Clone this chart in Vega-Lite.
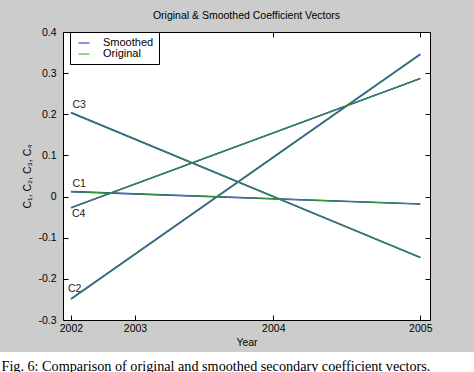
{
  "$schema": "https://vega.github.io/schema/vega-lite/v6.json",
  "background": "#cccccc",
  "padding": {"left": 0, "top": 10, "right": 0, "bottom": 0},
  "autosize": {"type": "pad"},
  "bounds": "flush",
  "center": true,
  "spacing": 32,
  "config": {
    "font": "Liberation Sans",
    "axis": {
      "domain": false,
      "grid": false,
      "tickColor": "black",
      "tickSize": -5,
      "labelColor": "black",
      "labelFont": "Liberation Sans",
      "labelFontSize": 10.5,
      "titleFont": "Liberation Sans",
      "titleFontSize": 10.5,
      "titleFontWeight": "normal",
      "titleColor": "black"
    },
    "title": {"font": "Liberation Sans", "fontSize": 10.5, "fontWeight": "normal", "color": "black", "offset": 6},
    "legend": {
      "orient": "none",
      "legendX": 70,
      "legendY": 0,
      "strokeColor": "black",
      "fillColor": "white",
      "padding": 5,
      "symbolType": "stroke",
      "symbolSize": 121,
      "symbolStrokeWidth": 1,
      "symbolOffset": 3,
      "labelFont": "Liberation Sans",
      "labelFontSize": 11,
      "labelColor": "black",
      "labelOffset": 13,
      "rowPadding": 0,
      "cornerRadius": 0
    }
  },
  "vconcat": [
    {
      "width": 367,
      "height": 288,
      "title": "Original & Smoothed Coefficient Vectors",
      "view": {"fill": "white", "stroke": "black", "strokeWidth": 1},
      "data": {
        "values": [
          {"coef": "C1", "series": "Smoothed", "step": 0, "value": 0.012},
          {"coef": "C1", "series": "Smoothed", "step": 36, "value": -0.018},
          {"coef": "C2", "series": "Smoothed", "step": 0, "value": -0.249},
          {"coef": "C2", "series": "Smoothed", "step": 36, "value": 0.346},
          {"coef": "C3", "series": "Smoothed", "step": 0, "value": 0.204},
          {"coef": "C3", "series": "Smoothed", "step": 36, "value": -0.148},
          {"coef": "C4", "series": "Smoothed", "step": 0, "value": -0.027},
          {"coef": "C4", "series": "Smoothed", "step": 36, "value": 0.287},
          {"coef": "C1", "series": "Original", "step": 0, "value": 0.012},
          {"coef": "C1", "series": "Original", "step": 36, "value": -0.018},
          {"coef": "C2", "series": "Original", "step": 0, "value": -0.249},
          {"coef": "C2", "series": "Original", "step": 36, "value": 0.346},
          {"coef": "C3", "series": "Original", "step": 0, "value": 0.204},
          {"coef": "C3", "series": "Original", "step": 36, "value": -0.148},
          {"coef": "C4", "series": "Original", "step": 0, "value": -0.027},
          {"coef": "C4", "series": "Original", "step": 36, "value": 0.287}
        ]
      },
      "layer": [
        {
          "transform": [{"filter": "datum.series === 'Smoothed'"}],
          "mark": {"type": "line", "strokeWidth": 1.7},
          "encoding": {
            "x": {
              "field": "step", "type": "quantitative",
              "scale": {"domain": [-0.82, 37.0], "nice": false, "zero": false},
              "axis": {
                "orient": "bottom", "title": "Year",
                "values": [0, 6.6, 20.85, 36],
                "labelExpr": "datum.value == 0 ? '2002' : datum.value < 10 ? '2003' : datum.value < 30 ? '2004' : '2005'",
                "labelPadding": 8, "titlePadding": 4
              }
            },
            "y": {
              "field": "value", "type": "quantitative",
              "scale": {"domain": [-0.3, 0.4], "nice": false, "zero": false},
              "axis": {
                "orient": "left", "title": "C₁, C₂, C₃, C₄",
                "values": [-0.3, -0.2, -0.1, 0, 0.1, 0.2, 0.3, 0.4],
                "labelExpr": "'' + datum.value",
                "labelPadding": 12, "titlePadding": 5
              }
            },
            "color": {
              "field": "series", "type": "nominal",
              "scale": {"domain": ["Smoothed", "Original"], "range": ["#1c2fa8", "#33a033"]},
              "legend": {"title": null}
            },
            "detail": {"field": "coef"}
          }
        },
        {
          "transform": [{"filter": "datum.series === 'Original'"}],
          "mark": {"type": "line", "strokeWidth": 1},
          "encoding": {
            "x": {
              "field": "step", "type": "quantitative",
              "axis": {"orient": "top", "title": null, "labels": false, "values": [0, 6.6, 20.85, 36]}
            },
            "y": {
              "field": "value", "type": "quantitative",
              "axis": {"orient": "right", "title": null, "labels": false, "values": [-0.3, -0.2, -0.1, 0, 0.1, 0.2, 0.3, 0.4]}
            },
            "color": {"field": "series", "type": "nominal", "legend": {"title": null}},
            "detail": {"field": "coef"}
          }
        },
        {
          "transform": [{"filter": "datum.series === 'Original' && datum.step === 0 && (datum.coef === 'C1' || datum.coef === 'C3')"}],
          "mark": {"type": "text", "align": "left", "baseline": "alphabetic", "dx": 1.5, "dy": -4.5, "font": "Liberation Sans", "fontSize": 10.5, "color": "#222222"},
          "encoding": {
            "x": {"field": "step", "type": "quantitative", "axis": null},
            "y": {"field": "value", "type": "quantitative", "axis": null},
            "text": {"field": "coef"}
          }
        },
        {
          "transform": [{"filter": "datum.series === 'Original' && datum.step === 0 && datum.coef === 'C2'"}],
          "mark": {"type": "text", "align": "left", "baseline": "alphabetic", "dx": -3, "dy": -7, "font": "Liberation Sans", "fontSize": 10.5, "color": "#222222"},
          "encoding": {
            "x": {"field": "step", "type": "quantitative", "axis": null},
            "y": {"field": "value", "type": "quantitative", "axis": null},
            "text": {"field": "coef"}
          }
        },
        {
          "transform": [{"filter": "datum.series === 'Original' && datum.step === 0 && datum.coef === 'C4'"}],
          "mark": {"type": "text", "align": "left", "baseline": "top", "dx": 1, "dy": 1.5, "font": "Liberation Sans", "fontSize": 10.5, "color": "#222222"},
          "encoding": {
            "x": {"field": "step", "type": "quantitative", "axis": null},
            "y": {"field": "value", "type": "quantitative", "axis": null},
            "text": {"field": "coef"}
          }
        }
      ],
      "resolve": {"axis": {"x": "independent", "y": "independent"}}
    },
    {
      "width": 493,
      "height": 24,
      "view": {"fill": "white", "stroke": null},
      "data": {"values": [{"caption": "Fig.  6: Comparison of original and smoothed secondary coefficient vectors."}]},
      "mark": {"type": "text", "align": "left", "baseline": "alphabetic", "dx": -245, "dy": 6.5, "font": "Liberation Serif", "fontSize": 14.2, "color": "black"},
      "encoding": {"text": {"field": "caption"}}
    }
  ]
}
